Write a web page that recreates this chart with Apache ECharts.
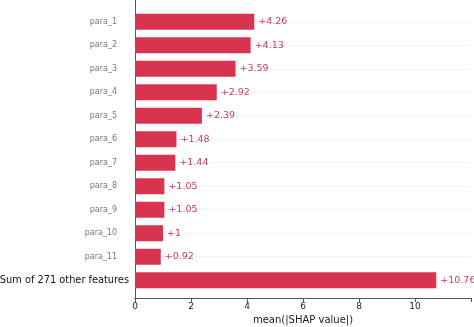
<!DOCTYPE html>
<html><head><meta charset="utf-8">
<script src="https://cdn.jsdelivr.net/npm/echarts@6/dist/echarts.min.js"></script>
<style>html,body{margin:0;padding:0;background:#fff}#c{width:474px;height:327px}</style>
</head><body><div id="c"></div>
<script>
const categories = ['para_1','para_2','para_3','para_4','para_5','para_6','para_7','para_8','para_9','para_10','para_11','Sum of 271 other features'];
const values = [4.26,4.13,3.59,2.92,2.39,1.48,1.44,1.05,1.05,1,0.92,10.76];
const xTicks = [0,2,4,6,8,10];
const xTitle = 'mean(|SHAP value|)';

const chart = echarts.init(document.getElementById('c'));
const F = 'DejaVu Sans';
const g = {left:135,right:3,containLabel:false,outerBoundsMode:'none'};
chart.setOption({
  animation:false,
  grid:[
    Object.assign({top:0,bottom:29},g),
    Object.assign({top:10,bottom:35},g),
    Object.assign({top:22,bottom:47},g)
  ],
  xAxis:[
    {gridIndex:0,type:'value',min:0,max:12,interval:2,
     axisLine:{show:true,lineStyle:{color:'#555',width:1}},
     axisTick:{show:true,length:4,lineStyle:{color:'#555'}},
     axisLabel:{fontFamily:F,fontSize:9,color:'#222',margin:4,formatter:v=>xTicks.includes(v)?String(v):''},
     splitLine:{show:false},
     name:xTitle,nameLocation:'middle',nameGap:16,
     nameTextStyle:{fontFamily:F,fontSize:10,color:'#222'}},
    {gridIndex:1,type:'value',min:0,max:12,show:false},
    {gridIndex:2,type:'value',min:0,max:12,show:false}
  ],
  yAxis:[
    {gridIndex:0,type:'value',min:0,max:1,
     axisLine:{show:true,lineStyle:{color:'#555',width:1}},
     axisTick:{show:false},axisLabel:{show:false},splitLine:{show:false}},
    {gridIndex:1,type:'category',inverse:true,data:categories,
     axisLine:{show:false},axisTick:{show:false},
     axisLabel:{margin:6,fontFamily:F,
       formatter:(v,i)=> i===categories.length-1 ? '{b|'+v+'}' : '{a|'+v+'}',
       rich:{a:{fontFamily:F,fontSize:8,color:'#777',padding:[0,12,0,0]},b:{fontFamily:F,fontSize:9.8,color:'#111'}}}},
    {gridIndex:2,type:'category',inverse:true,data:categories,boundaryGap:false,
     axisLine:{show:false},axisTick:{show:false},axisLabel:{show:false},
     splitLine:{show:true,lineStyle:{color:'#e8e8e8',type:[2,2],width:1}}}
  ],
  series:[
    {type:'bar',xAxisIndex:1,yAxisIndex:1,data:values,barWidth:16,z:3,
     itemStyle:{color:'#d9344f'},
     label:{show:true,position:'right',distance:4,fontFamily:F,fontSize:9.5,color:'#c93a6a',
       formatter:p=>'+'+p.value}}
  ]
});
</script></body></html>
